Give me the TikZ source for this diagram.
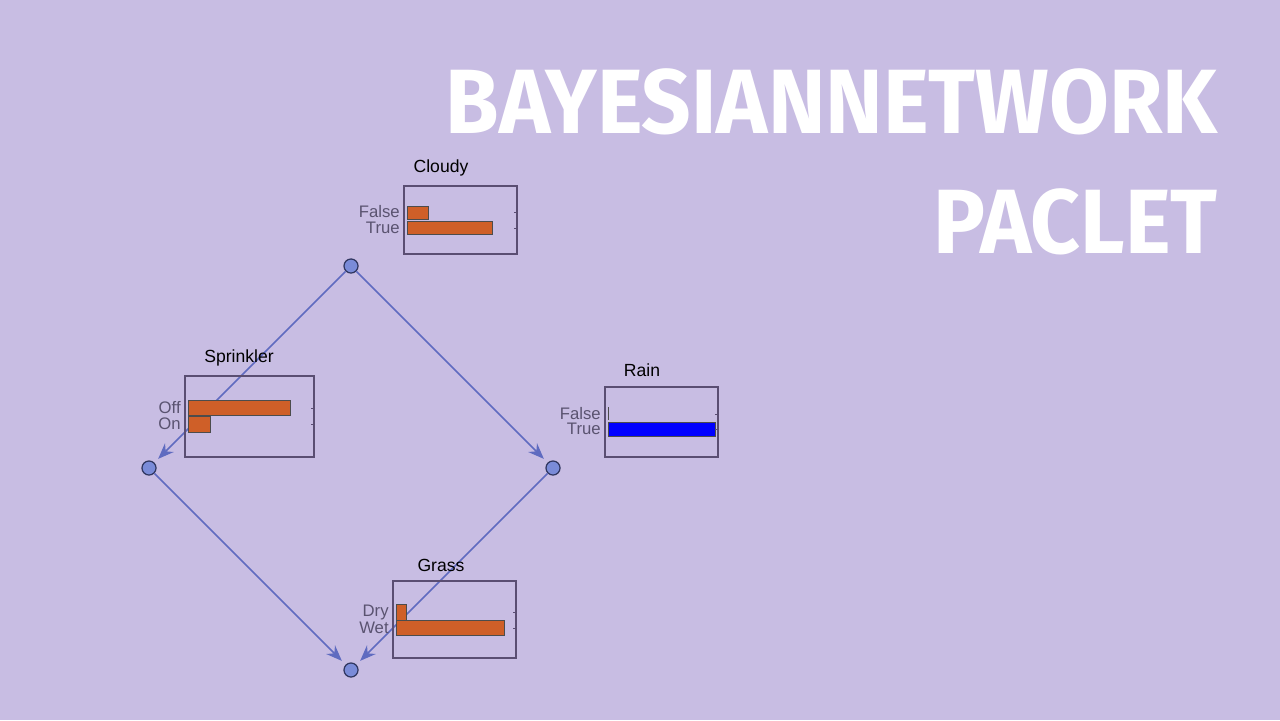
\documentclass[tikz,border=0pt]{standalone}
\usepackage{fontspec}
\setmainfont{Liberation Sans}
\newfontfamily\titlefont{Fira Sans}
\usetikzlibrary{arrows.meta,positioning}
\definecolor{bgc}{HTML}{C8BDE3}
\definecolor{edgec}{HTML}{5F6BC0}
\definecolor{vertc}{HTML}{7A8BD8}
\definecolor{barc}{HTML}{CF5F28}
\definecolor{framec}{HTML}{5A4E72}
\definecolor{labc}{HTML}{5A5370}
\tikzset{vert/.style={draw=edgec!50!black,fill=vertc,circle,inner sep=0pt,minimum size=8pt,line width=0.7pt}}
\tikzset{link/.style={draw=edgec,line width=0.9pt,-{Stealth[length=9pt,width=7pt]},shorten >=3pt}}
\tikzset{chart/.style={draw=framec,line width=0.6pt}}
\tikzset{bar/.style={draw=black!70,fill=barc,line width=0.5pt}}
\tikzset{ttl/.style={font=\fontsize{10}{11}\selectfont,text=black}}
\tikzset{lab/.style={font=\fontsize{9.5}{10}\selectfont,text=labc,anchor=east,inner sep=0pt}}
\tikzset{headline/.style={anchor=east,text=white,font=\titlefont\bfseries\fontsize{52}{56}\selectfont,inner sep=0pt,xscale=0.95}}
\begin{document}
\begin{tikzpicture}[x=0.02cm,y=-0.02cm]
	\fill[bgc] (0,0) rectangle (1280,720);
	\useasboundingbox (0,0) rectangle (1280,720);

	% title
	\node[headline] (t1) at (1218,102){BAYESIANNETWORK};
	\node[headline] (t2) at (1218,222){PACLET};

	% graph
	\node[vert] (cloudy) at (351,266){};
	\node[vert] (sprinkler) at (149,468){};
	\node[vert] (rain) at (553,468){};
	\node[vert] (grass) at (351,670){};

	\draw[link] (cloudy) -- (sprinkler);
	\draw[link] (cloudy) -- (rain);
	\draw[link] (sprinkler) -- (grass);
	\draw[link] (rain) -- (grass);

	% Cloudy
	\node[ttl] (tc) at (441,168){Cloudy};
	\draw[chart] (404,186) rectangle (517,254);
	\draw[bar] (407,206) rectangle (428,219);
	\draw[bar] (407,221) rectangle (492,234);
	\node[lab] (lc1) at (400,212){False};
	\node[lab] (lc2) at (400,228){True};
	\draw[framec] (514,212) -- (517,212) (514,228) -- (517,228);

	% Sprinkler
	\node[ttl] (ts) at (239,358){Sprinkler};
	\draw[chart] (185,376) rectangle (314,457);
	\draw[bar] (188,400) rectangle (290,415);
	\draw[bar] (188,416) rectangle (210,432);
	\node[lab] (ls1) at (181,408){Off};
	\node[lab] (ls2) at (181,424){On};
	\draw[framec] (311,408) -- (314,408) (311,424) -- (314,424);

	% Rain
	\node[ttl] (tr) at (642,370){Rain};
	\draw[chart] (605,387) rectangle (718,457);
	\draw[black!70] (608,407) -- (608,420);
	\draw[draw=black!70,fill=blue] (608,422) rectangle (715,436);
	\node[lab] (lr1) at (601,414){False};
	\node[lab] (lr2) at (601,429){True};
	\draw[framec] (715,414) -- (718,414) (715,429) -- (718,429);

	% Grass
	\node[ttl] (tg) at (441,565){Grass};
	\draw[chart] (393,581) rectangle (516,658);
	\draw[bar] (396,604) rectangle (406,620);
	\draw[bar] (396,620) rectangle (504,635);
	\node[lab] (lg1) at (389,612){Dry};
	\node[lab] (lg2) at (389,628){Wet};
	\draw[framec] (513,612) -- (516,612) (513,628) -- (516,628);
\end{tikzpicture}
\end{document}
